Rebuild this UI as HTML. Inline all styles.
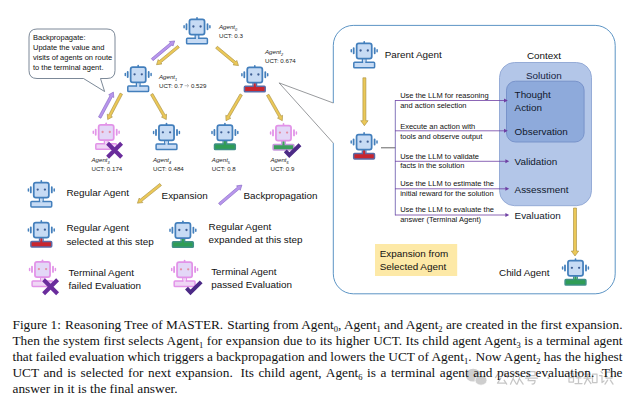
<!DOCTYPE html>
<html><head><meta charset="utf-8"><title>Figure 1</title>
<style>
html,body{margin:0;padding:0;background:#fff;}
body{width:640px;height:402px;overflow:hidden;position:relative;font-family:"Liberation Sans",sans-serif;}
svg{position:absolute;left:0;top:0;}
svg text{font-family:"Liberation Sans",sans-serif;}
.cl{position:absolute;left:12.5px;width:610px;height:16px;line-height:16px;font-family:"Liberation Serif",serif;font-size:13.3px;color:#111;white-space:nowrap;}
.cl.j{text-align:justify;text-align-last:justify;white-space:normal;}
.sb{font-size:8.5px;position:relative;top:2.5px;line-height:0;}
</style></head>
<body>
<svg width="640" height="402" viewBox="0 0 640 402">
<path d="M37 29H107Q115 29 115 37V70.5Q115 78.5 107 78.5H100.5L104.6 91.5L83.5 78.5H37Q29 78.5 29 70.5V37Q29 29 37 29Z" fill="#fff" stroke="#5b6b7d" stroke-width="0.8"/>
<text x="33.00" y="39.80" font-size="7.50" text-anchor="start" fill="#111"  >Backpropagate:</text>
<text x="33.00" y="49.73" font-size="7.50" text-anchor="start" fill="#111"  >Update the value and</text>
<text x="33.00" y="59.66" font-size="7.50" text-anchor="start" fill="#111"  >visits of agents on route</text>
<text x="33.00" y="69.59" font-size="7.50" text-anchor="start" fill="#111"  >to the terminal agent.</text>
<path d="M333.3 103V45.4A20 20 0 0 1 353.3 25.4H595.2A20 20 0 0 1 615.2 45.4V273.8A20 20 0 0 1 595.2 293.8H353.3A20 20 0 0 1 333.3 273.8V143.1" fill="#fff" stroke="#4a88bd" stroke-width="0.9" stroke-linejoin="round"/>
<path d="M333.3 103L279.1 82.9L333.3 143.1" fill="#fff" stroke="#6b6f73" stroke-width="0.7" stroke-linejoin="miter"/>
<polygon points="153.06,60.64 172.03,44.88 173.02,46.07 174.70,40.90 169.31,41.61 170.30,42.80 151.34,58.56" fill="#b896ec" stroke="#8162c2" stroke-width="0.6" stroke-linejoin="miter"/>
<polygon points="177.64,45.46 159.18,60.73 158.20,59.53 156.50,64.70 161.89,64.00 160.90,62.81 179.36,47.54" fill="#ebc858" stroke="#a58b3c" stroke-width="0.6" stroke-linejoin="miter"/>
<polygon points="215.64,48.34 234.10,63.70 233.11,64.89 238.50,65.60 236.82,60.43 235.83,61.62 217.36,46.26" fill="#ebc858" stroke="#a58b3c" stroke-width="0.6" stroke-linejoin="miter"/>
<polygon points="100.89,118.24 112.41,96.79 113.78,97.52 113.40,92.10 108.67,94.78 110.03,95.51 98.51,116.96" fill="#b896ec" stroke="#8162c2" stroke-width="0.6" stroke-linejoin="miter"/>
<polygon points="120.10,93.07 108.64,114.90 107.27,114.18 107.70,119.60 112.41,116.88 111.03,116.15 122.50,94.33" fill="#ebc858" stroke="#a58b3c" stroke-width="0.6" stroke-linejoin="miter"/>
<polygon points="150.53,94.87 162.84,116.28 161.49,117.06 166.30,119.60 166.52,114.17 165.18,114.94 152.87,93.53" fill="#ebc858" stroke="#a58b3c" stroke-width="0.6" stroke-linejoin="miter"/>
<polygon points="240.03,93.92 227.15,116.05 225.81,115.27 226.00,120.70 230.82,118.18 229.48,117.40 242.37,95.28" fill="#ebc858" stroke="#a58b3c" stroke-width="0.6" stroke-linejoin="miter"/>
<polygon points="266.53,95.56 278.86,117.36 277.51,118.12 282.30,120.70 282.56,115.27 281.21,116.03 268.87,94.24" fill="#ebc858" stroke="#a58b3c" stroke-width="0.6" stroke-linejoin="miter"/>
<g transform="translate(183.50,17.20) scale(1.000)"><path d="M13.5 0.5V2.4" stroke="#437fbc" stroke-width="1.6" stroke-linecap="round" fill="none"/><path d="M3.0 6.9V12.1M24.0 6.9V12.1" stroke="#437fbc" stroke-width="1.8" stroke-linecap="round" fill="none"/><path d="M0.6 8.6V10.6M26.4 8.6V10.6" stroke="#437fbc" stroke-width="1.5" stroke-linecap="round" fill="none"/><rect x="3.1" y="21.1" width="20.8" height="5.5" rx="0.9" fill="#c7dbf4" stroke="#437fbc" stroke-width="1.5"/><path d="M11.7 17.8V21.2M15.3 17.8V21.2" stroke="#437fbc" stroke-width="1.3" fill="none"/><rect x="12.45" y="17.6" width="2.1" height="4.7" fill="#c7dbf4"/><rect x="5.95" y="2.2" width="15.1" height="15.1" rx="2.1" fill="#c7dbf4" stroke="#437fbc" stroke-width="1.75"/><circle cx="9.9" cy="9.3" r="1.15" fill="#3f5f94"/><circle cx="17.1" cy="9.3" r="1.15" fill="#3f5f94"/></g>
<g transform="translate(124.70,65.00) scale(1.000)"><path d="M13.5 0.5V2.4" stroke="#437fbc" stroke-width="1.6" stroke-linecap="round" fill="none"/><path d="M3.0 6.9V12.1M24.0 6.9V12.1" stroke="#437fbc" stroke-width="1.8" stroke-linecap="round" fill="none"/><path d="M0.6 8.6V10.6M26.4 8.6V10.6" stroke="#437fbc" stroke-width="1.5" stroke-linecap="round" fill="none"/><rect x="3.1" y="21.1" width="20.8" height="5.5" rx="0.9" fill="#c7dbf4" stroke="#437fbc" stroke-width="1.5"/><path d="M11.7 17.8V21.2M15.3 17.8V21.2" stroke="#437fbc" stroke-width="1.3" fill="none"/><rect x="12.45" y="17.6" width="2.1" height="4.7" fill="#c7dbf4"/><rect x="5.95" y="2.2" width="15.1" height="15.1" rx="2.1" fill="#c7dbf4" stroke="#437fbc" stroke-width="1.75"/><circle cx="9.9" cy="9.3" r="1.15" fill="#3f5f94"/><circle cx="17.1" cy="9.3" r="1.15" fill="#3f5f94"/></g>
<g transform="translate(241.30,65.20) scale(1.000)"><path d="M13.5 0.5V2.4" stroke="#437fbc" stroke-width="1.6" stroke-linecap="round" fill="none"/><path d="M3.0 6.9V12.1M24.0 6.9V12.1" stroke="#437fbc" stroke-width="1.8" stroke-linecap="round" fill="none"/><path d="M0.6 8.6V10.6M26.4 8.6V10.6" stroke="#437fbc" stroke-width="1.5" stroke-linecap="round" fill="none"/><rect x="3.1" y="21.1" width="20.8" height="5.5" rx="0.9" fill="#c8262f" stroke="#5a6aa6" stroke-width="1.5"/><path d="M11.7 17.8V21.2M15.3 17.8V21.2" stroke="#5a6aa6" stroke-width="1.3" fill="none"/><rect x="12.45" y="17.6" width="2.1" height="4.7" fill="#c8262f"/><rect x="5.95" y="2.2" width="15.1" height="15.1" rx="2.1" fill="#c7dbf4" stroke="#437fbc" stroke-width="1.75"/><circle cx="9.9" cy="9.3" r="1.15" fill="#3f5f94"/><circle cx="17.1" cy="9.3" r="1.15" fill="#3f5f94"/></g>
<g transform="translate(92.70,122.70) scale(1.000)"><path d="M13.5 0.5V2.4" stroke="#e293e8" stroke-width="1.6" stroke-linecap="round" fill="none"/><path d="M3.0 6.9V12.1M24.0 6.9V12.1" stroke="#e293e8" stroke-width="1.8" stroke-linecap="round" fill="none"/><path d="M0.6 8.6V10.6M26.4 8.6V10.6" stroke="#e293e8" stroke-width="1.5" stroke-linecap="round" fill="none"/><rect x="3.1" y="21.1" width="20.8" height="5.5" rx="0.9" fill="#efd6f5" stroke="#e293e8" stroke-width="1.5"/><path d="M11.7 17.8V21.2M15.3 17.8V21.2" stroke="#e293e8" stroke-width="1.3" fill="none"/><rect x="12.45" y="17.6" width="2.1" height="4.7" fill="#efd6f5"/><rect x="5.95" y="2.2" width="15.1" height="15.1" rx="2.1" fill="#e3d7f7" stroke="#e293e8" stroke-width="1.75"/><circle cx="9.9" cy="9.3" r="1.15" fill="#e58fa3"/><circle cx="17.1" cy="9.3" r="1.15" fill="#e58fa3"/></g>
<path d="M107.60 143.20L121.60 157.20M121.60 143.20L107.60 157.20" stroke="#6a2c9c" stroke-width="4.1" stroke-linecap="butt" fill="none"/>
<g transform="translate(153.00,123.00) scale(1.000)"><path d="M13.5 0.5V2.4" stroke="#437fbc" stroke-width="1.6" stroke-linecap="round" fill="none"/><path d="M3.0 6.9V12.1M24.0 6.9V12.1" stroke="#437fbc" stroke-width="1.8" stroke-linecap="round" fill="none"/><path d="M0.6 8.6V10.6M26.4 8.6V10.6" stroke="#437fbc" stroke-width="1.5" stroke-linecap="round" fill="none"/><rect x="3.1" y="21.1" width="20.8" height="5.5" rx="0.9" fill="#c7dbf4" stroke="#437fbc" stroke-width="1.5"/><path d="M11.7 17.8V21.2M15.3 17.8V21.2" stroke="#437fbc" stroke-width="1.3" fill="none"/><rect x="12.45" y="17.6" width="2.1" height="4.7" fill="#c7dbf4"/><rect x="5.95" y="2.2" width="15.1" height="15.1" rx="2.1" fill="#c7dbf4" stroke="#437fbc" stroke-width="1.75"/><circle cx="9.9" cy="9.3" r="1.15" fill="#3f5f94"/><circle cx="17.1" cy="9.3" r="1.15" fill="#3f5f94"/></g>
<g transform="translate(211.40,123.00) scale(1.000)"><path d="M13.5 0.5V2.4" stroke="#437fbc" stroke-width="1.6" stroke-linecap="round" fill="none"/><path d="M3.0 6.9V12.1M24.0 6.9V12.1" stroke="#437fbc" stroke-width="1.8" stroke-linecap="round" fill="none"/><path d="M0.6 8.6V10.6M26.4 8.6V10.6" stroke="#437fbc" stroke-width="1.5" stroke-linecap="round" fill="none"/><rect x="3.1" y="21.1" width="20.8" height="5.5" rx="0.9" fill="#2f9d55" stroke="#3f8f86" stroke-width="1.5"/><path d="M11.7 17.8V21.2M15.3 17.8V21.2" stroke="#3f8f86" stroke-width="1.3" fill="none"/><rect x="12.45" y="17.6" width="2.1" height="4.7" fill="#2f9d55"/><rect x="5.95" y="2.2" width="15.1" height="15.1" rx="2.1" fill="#c7dbf4" stroke="#437fbc" stroke-width="1.75"/><circle cx="9.9" cy="9.3" r="1.15" fill="#3f5f94"/><circle cx="17.1" cy="9.3" r="1.15" fill="#3f5f94"/></g>
<g transform="translate(270.00,123.30) scale(1.000)"><path d="M13.5 0.5V2.4" stroke="#e293e8" stroke-width="1.6" stroke-linecap="round" fill="none"/><path d="M3.0 6.9V12.1M24.0 6.9V12.1" stroke="#e293e8" stroke-width="1.8" stroke-linecap="round" fill="none"/><path d="M0.6 8.6V10.6M26.4 8.6V10.6" stroke="#e293e8" stroke-width="1.5" stroke-linecap="round" fill="none"/><rect x="3.1" y="21.1" width="20.8" height="5.5" rx="0.9" fill="#3b9e5b" stroke="#c79ade" stroke-width="1.5"/><path d="M11.7 17.8V21.2M15.3 17.8V21.2" stroke="#c79ade" stroke-width="1.3" fill="none"/><rect x="12.45" y="17.6" width="2.1" height="4.7" fill="#3b9e5b"/><rect x="5.95" y="2.2" width="15.1" height="15.1" rx="2.1" fill="#e3d7f7" stroke="#e293e8" stroke-width="1.75"/><circle cx="9.9" cy="9.3" r="1.15" fill="#e58fa3"/><circle cx="17.1" cy="9.3" r="1.15" fill="#e58fa3"/></g>
<path d="M285.30 150.90L289.30 155.20L300.00 144.70" stroke="#4c2a86" stroke-width="4.0" stroke-linejoin="miter" fill="none"/>
<text x="219.00" y="29.20" font-size="6.15" font-style="italic" fill="#222">Agent<tspan font-size="3.81" dy="1.6">0</tspan></text><text x="219.00" y="37.80" font-size="6.15" fill="#222">UCT: 0.3</text>
<text x="159.00" y="79.20" font-size="6.15" font-style="italic" fill="#222">Agent<tspan font-size="3.81" dy="1.6">1</tspan></text><text x="159.00" y="87.80" font-size="6.15" fill="#222">UCT: 0.7</text>
<path d="M184.6 85.7H188.6M187 84.1L188.8 85.7L187 87.3" stroke="#a9a9a9" stroke-width="0.7" fill="none"/>
<text x="191.00" y="87.80" font-size="6.15" text-anchor="start" fill="#222"  >0.529</text>
<text x="265.00" y="54.20" font-size="6.15" font-style="italic" fill="#222">Agent<tspan font-size="3.81" dy="1.6">2</tspan></text><text x="265.00" y="62.80" font-size="6.15" fill="#222">UCT: 0.674</text>
<text x="91.50" y="162.00" font-size="6.15" font-style="italic" fill="#222">Agent<tspan font-size="3.81" dy="1.6">3</tspan></text><text x="91.50" y="170.60" font-size="6.15" fill="#222">UCT: 0.174</text>
<text x="153.00" y="162.00" font-size="6.15" font-style="italic" fill="#222">Agent<tspan font-size="3.81" dy="1.6">4</tspan></text><text x="153.00" y="170.60" font-size="6.15" fill="#222">UCT: 0.484</text>
<text x="211.80" y="162.00" font-size="6.15" font-style="italic" fill="#222">Agent<tspan font-size="3.81" dy="1.6">5</tspan></text><text x="211.80" y="170.60" font-size="6.15" fill="#222">UCT: 0.8</text>
<text x="270.50" y="162.40" font-size="6.15" font-style="italic" fill="#222">Agent<tspan font-size="3.81" dy="1.6">6</tspan></text><text x="270.50" y="171.00" font-size="6.15" fill="#222">UCT: 0.9</text>
<g transform="translate(27.80,180.30) scale(1.000)"><path d="M13.5 0.5V2.4" stroke="#437fbc" stroke-width="1.6" stroke-linecap="round" fill="none"/><path d="M3.0 6.9V12.1M24.0 6.9V12.1" stroke="#437fbc" stroke-width="1.8" stroke-linecap="round" fill="none"/><path d="M0.6 8.6V10.6M26.4 8.6V10.6" stroke="#437fbc" stroke-width="1.5" stroke-linecap="round" fill="none"/><rect x="3.1" y="21.1" width="20.8" height="5.5" rx="0.9" fill="#c7dbf4" stroke="#437fbc" stroke-width="1.5"/><path d="M11.7 17.8V21.2M15.3 17.8V21.2" stroke="#437fbc" stroke-width="1.3" fill="none"/><rect x="12.45" y="17.6" width="2.1" height="4.7" fill="#c7dbf4"/><rect x="5.95" y="2.2" width="15.1" height="15.1" rx="2.1" fill="#c7dbf4" stroke="#437fbc" stroke-width="1.75"/><circle cx="9.9" cy="9.3" r="1.15" fill="#3f5f94"/><circle cx="17.1" cy="9.3" r="1.15" fill="#3f5f94"/></g>
<text x="66.40" y="196.30" font-size="9.90" text-anchor="start" fill="#111"  >Regular Agent</text>
<polygon points="159.75,183.45 140.13,199.26 139.16,198.06 137.40,203.20 142.80,202.57 141.83,201.36 161.45,185.55" fill="#ebc858" stroke="#a58b3c" stroke-width="0.6" stroke-linejoin="miter"/>
<text x="161.60" y="198.60" font-size="9.90" text-anchor="start" fill="#111"  >Expansion</text>
<polygon points="220.27,205.23 239.27,189.11 240.27,190.29 241.90,185.10 236.52,185.87 237.52,187.05 218.53,203.17" fill="#b896ec" stroke="#8162c2" stroke-width="0.6" stroke-linejoin="miter"/>
<text x="243.40" y="198.60" font-size="9.90" text-anchor="start" fill="#111"  >Backpropagation</text>
<g transform="translate(27.80,220.40) scale(1.000)"><path d="M13.5 0.5V2.4" stroke="#437fbc" stroke-width="1.6" stroke-linecap="round" fill="none"/><path d="M3.0 6.9V12.1M24.0 6.9V12.1" stroke="#437fbc" stroke-width="1.8" stroke-linecap="round" fill="none"/><path d="M0.6 8.6V10.6M26.4 8.6V10.6" stroke="#437fbc" stroke-width="1.5" stroke-linecap="round" fill="none"/><rect x="3.1" y="21.1" width="20.8" height="5.5" rx="0.9" fill="#c8262f" stroke="#5a6aa6" stroke-width="1.5"/><path d="M11.7 17.8V21.2M15.3 17.8V21.2" stroke="#5a6aa6" stroke-width="1.3" fill="none"/><rect x="12.45" y="17.6" width="2.1" height="4.7" fill="#c8262f"/><rect x="5.95" y="2.2" width="15.1" height="15.1" rx="2.1" fill="#c7dbf4" stroke="#437fbc" stroke-width="1.75"/><circle cx="9.9" cy="9.3" r="1.15" fill="#3f5f94"/><circle cx="17.1" cy="9.3" r="1.15" fill="#3f5f94"/></g>
<text x="66.40" y="231.40" font-size="9.90" text-anchor="start" fill="#111"  >Regular Agent</text>
<text x="66.40" y="244.50" font-size="9.90" text-anchor="start" fill="#111"  >selected at this step</text>
<g transform="translate(169.40,220.70) scale(1.000)"><path d="M13.5 0.5V2.4" stroke="#437fbc" stroke-width="1.6" stroke-linecap="round" fill="none"/><path d="M3.0 6.9V12.1M24.0 6.9V12.1" stroke="#437fbc" stroke-width="1.8" stroke-linecap="round" fill="none"/><path d="M0.6 8.6V10.6M26.4 8.6V10.6" stroke="#437fbc" stroke-width="1.5" stroke-linecap="round" fill="none"/><rect x="3.1" y="21.1" width="20.8" height="5.5" rx="0.9" fill="#2f9d55" stroke="#3f8f86" stroke-width="1.5"/><path d="M11.7 17.8V21.2M15.3 17.8V21.2" stroke="#3f8f86" stroke-width="1.3" fill="none"/><rect x="12.45" y="17.6" width="2.1" height="4.7" fill="#2f9d55"/><rect x="5.95" y="2.2" width="15.1" height="15.1" rx="2.1" fill="#c7dbf4" stroke="#437fbc" stroke-width="1.75"/><circle cx="9.9" cy="9.3" r="1.15" fill="#3f5f94"/><circle cx="17.1" cy="9.3" r="1.15" fill="#3f5f94"/></g>
<text x="208.60" y="229.50" font-size="9.90" text-anchor="start" fill="#111"  >Regular Agent</text>
<text x="208.60" y="242.60" font-size="9.90" text-anchor="start" fill="#111"  >expanded at this step</text>
<g transform="translate(29.00,259.80) scale(1.000)"><path d="M13.5 0.5V2.4" stroke="#e293e8" stroke-width="1.6" stroke-linecap="round" fill="none"/><path d="M3.0 6.9V12.1M24.0 6.9V12.1" stroke="#e293e8" stroke-width="1.8" stroke-linecap="round" fill="none"/><path d="M0.6 8.6V10.6M26.4 8.6V10.6" stroke="#e293e8" stroke-width="1.5" stroke-linecap="round" fill="none"/><rect x="3.1" y="21.1" width="20.8" height="5.5" rx="0.9" fill="#efd6f5" stroke="#e293e8" stroke-width="1.5"/><path d="M11.7 17.8V21.2M15.3 17.8V21.2" stroke="#e293e8" stroke-width="1.3" fill="none"/><rect x="12.45" y="17.6" width="2.1" height="4.7" fill="#efd6f5"/><rect x="5.95" y="2.2" width="15.1" height="15.1" rx="2.1" fill="#e3d7f7" stroke="#e293e8" stroke-width="1.75"/><circle cx="9.9" cy="9.3" r="1.15" fill="#e58fa3"/><circle cx="17.1" cy="9.3" r="1.15" fill="#e58fa3"/></g>
<path d="M43.60 279.70L57.60 293.70M57.60 279.70L43.60 293.70" stroke="#6a2c9c" stroke-width="4.1" stroke-linecap="butt" fill="none"/>
<text x="68.60" y="275.80" font-size="9.90" text-anchor="start" fill="#111"  >Terminal Agent</text>
<text x="68.60" y="288.90" font-size="9.90" text-anchor="start" fill="#111"  >failed Evaluation</text>
<g transform="translate(171.10,260.00) scale(1.000)"><path d="M13.5 0.5V2.4" stroke="#e293e8" stroke-width="1.6" stroke-linecap="round" fill="none"/><path d="M3.0 6.9V12.1M24.0 6.9V12.1" stroke="#e293e8" stroke-width="1.8" stroke-linecap="round" fill="none"/><path d="M0.6 8.6V10.6M26.4 8.6V10.6" stroke="#e293e8" stroke-width="1.5" stroke-linecap="round" fill="none"/><rect x="3.1" y="21.1" width="20.8" height="5.5" rx="0.9" fill="#efd6f5" stroke="#e293e8" stroke-width="1.5"/><path d="M11.7 17.8V21.2M15.3 17.8V21.2" stroke="#e293e8" stroke-width="1.3" fill="none"/><rect x="12.45" y="17.6" width="2.1" height="4.7" fill="#efd6f5"/><rect x="5.95" y="2.2" width="15.1" height="15.1" rx="2.1" fill="#e3d7f7" stroke="#e293e8" stroke-width="1.75"/><circle cx="9.9" cy="9.3" r="1.15" fill="#e58fa3"/><circle cx="17.1" cy="9.3" r="1.15" fill="#e58fa3"/></g>
<path d="M186.50 288.10L190.50 292.40L201.20 281.90" stroke="#4c2a86" stroke-width="4.0" stroke-linejoin="miter" fill="none"/>
<text x="211.20" y="275.20" font-size="9.90" text-anchor="start" fill="#111"  >Terminal Agent</text>
<text x="211.20" y="288.30" font-size="9.90" text-anchor="start" fill="#111"  >passed Evaluation</text>
<g transform="translate(350.70,41.20) scale(1.000)"><path d="M13.5 0.5V2.4" stroke="#437fbc" stroke-width="1.6" stroke-linecap="round" fill="none"/><path d="M3.0 6.9V12.1M24.0 6.9V12.1" stroke="#437fbc" stroke-width="1.8" stroke-linecap="round" fill="none"/><path d="M0.6 8.6V10.6M26.4 8.6V10.6" stroke="#437fbc" stroke-width="1.5" stroke-linecap="round" fill="none"/><rect x="3.1" y="21.1" width="20.8" height="5.5" rx="0.9" fill="#c7dbf4" stroke="#437fbc" stroke-width="1.5"/><path d="M11.7 17.8V21.2M15.3 17.8V21.2" stroke="#437fbc" stroke-width="1.3" fill="none"/><rect x="12.45" y="17.6" width="2.1" height="4.7" fill="#c7dbf4"/><rect x="5.95" y="2.2" width="15.1" height="15.1" rx="2.1" fill="#c7dbf4" stroke="#437fbc" stroke-width="1.75"/><circle cx="9.9" cy="9.3" r="1.15" fill="#3f5f94"/><circle cx="17.1" cy="9.3" r="1.15" fill="#3f5f94"/></g>
<text x="384.70" y="58.10" font-size="9.90" text-anchor="start" fill="#111"  >Parent Agent</text>
<polygon points="362.90,77.80 362.90,120.70 360.70,120.70 364.40,125.70 368.10,120.70 365.90,120.70 365.90,77.80" fill="#ebc858" stroke="#a58b3c" stroke-width="0.6" stroke-linejoin="miter"/>
<g transform="translate(350.60,132.40) scale(1.000)"><path d="M13.5 0.5V2.4" stroke="#437fbc" stroke-width="1.6" stroke-linecap="round" fill="none"/><path d="M3.0 6.9V12.1M24.0 6.9V12.1" stroke="#437fbc" stroke-width="1.8" stroke-linecap="round" fill="none"/><path d="M0.6 8.6V10.6M26.4 8.6V10.6" stroke="#437fbc" stroke-width="1.5" stroke-linecap="round" fill="none"/><rect x="3.1" y="21.1" width="20.8" height="5.5" rx="0.9" fill="#c8262f" stroke="#5a6aa6" stroke-width="1.5"/><path d="M11.7 17.8V21.2M15.3 17.8V21.2" stroke="#5a6aa6" stroke-width="1.3" fill="none"/><rect x="12.45" y="17.6" width="2.1" height="4.7" fill="#c8262f"/><rect x="5.95" y="2.2" width="15.1" height="15.1" rx="2.1" fill="#c7dbf4" stroke="#437fbc" stroke-width="1.75"/><circle cx="9.9" cy="9.3" r="1.15" fill="#3f5f94"/><circle cx="17.1" cy="9.3" r="1.15" fill="#3f5f94"/></g>
<rect x="499.5" y="62.5" width="92" height="143.2" rx="15" fill="#b3c6e8" stroke="#8ea6d4" stroke-width="0.9"/>
<rect x="506.5" y="81.2" width="77.6" height="60.8" rx="9" fill="#8eaadb" stroke="#748fc7" stroke-width="0.9"/>
<text x="543.90" y="58.70" font-size="9.90" text-anchor="middle" fill="#111"  >Context</text>
<text x="543.80" y="78.60" font-size="9.90" text-anchor="middle" fill="#15233f"  >Solution</text>
<text x="514.60" y="97.70" font-size="9.90" text-anchor="start" fill="#10182c"  >Thought</text>
<text x="514.60" y="110.60" font-size="9.90" text-anchor="start" fill="#10182c"  >Action</text>
<text x="514.60" y="134.70" font-size="9.90" text-anchor="start" fill="#10182c"  >Observation</text>
<text x="514.60" y="165.00" font-size="9.90" text-anchor="start" fill="#10182c"  >Validation</text>
<text x="514.60" y="192.50" font-size="9.90" text-anchor="start" fill="#10182c"  >Assessment</text>
<text x="514.60" y="218.90" font-size="9.90" text-anchor="start" fill="#10182c"  >Evaluation</text>
<path d="M381 147.8H395.3" stroke="#555" stroke-width="0.9" fill="none"/>
<path d="M395.3 100.2V215.3" stroke="#6454ab" stroke-width="0.8" fill="none"/>
<path d="M395 100.5H505.8" stroke="#6e3fa3" stroke-width="0.8" fill="none"/>
<path d="M504.0 98.5l3.8 2.0l-3.8 2.0z" fill="#6e3fa3"/>
<path d="M395 130.8H505.8" stroke="#6e3fa3" stroke-width="0.8" fill="none"/>
<path d="M504.0 128.8l3.8 2.0l-3.8 2.0z" fill="#6e3fa3"/>
<path d="M395 161.3H507.2" stroke="#6e3fa3" stroke-width="0.8" fill="none"/>
<path d="M505.4 159.3l3.8 2.0l-3.8 2.0z" fill="#6e3fa3"/>
<path d="M395 188.8H507.2" stroke="#6e3fa3" stroke-width="0.8" fill="none"/>
<path d="M505.4 186.8l3.8 2.0l-3.8 2.0z" fill="#6e3fa3"/>
<path d="M395 215.0H507.2" stroke="#6e3fa3" stroke-width="0.8" fill="none"/>
<path d="M505.4 213.0l3.8 2.0l-3.8 2.0z" fill="#6e3fa3"/>
<text x="400.20" y="98.20" font-size="7.50" text-anchor="start" fill="#111"  >Use the LLM for reasoning</text>
<text x="400.20" y="108.10" font-size="7.50" text-anchor="start" fill="#111"  >and action selection</text>
<text x="400.20" y="128.60" font-size="7.50" text-anchor="start" fill="#111"  >Execute an action with</text>
<text x="400.20" y="138.50" font-size="7.50" text-anchor="start" fill="#111"  >tools and observe output</text>
<text x="400.20" y="158.50" font-size="7.50" text-anchor="start" fill="#111"  >Use the LLM to validate</text>
<text x="400.20" y="168.40" font-size="7.50" text-anchor="start" fill="#111"  >facts in the solution</text>
<text x="400.20" y="186.10" font-size="7.50" text-anchor="start" fill="#111"  >Use the LLM to estimate the</text>
<text x="400.20" y="196.10" font-size="7.50" text-anchor="start" fill="#111"  >initial reward for the solution</text>
<text x="400.20" y="212.00" font-size="7.50" text-anchor="start" fill="#111"  >Use the LLM to evaluate the</text>
<text x="400.20" y="222.20" font-size="7.50" text-anchor="start" fill="#111"  >answer (Terminal Agent)</text>
<rect x="375" y="244" width="82.2" height="32" fill="#fde9a7"/>
<text x="379.70" y="257.30" font-size="9.90" text-anchor="start" fill="#111"  >Expansion from</text>
<text x="379.70" y="270.40" font-size="9.90" text-anchor="start" fill="#111"  >Selected Agent</text>
<text x="499.00" y="276.00" font-size="9.90" text-anchor="start" fill="#111"  >Child Agent</text>
<polygon points="573.50,208.00 573.50,251.00 571.30,251.00 575.00,256.00 578.70,251.00 576.50,251.00 576.50,208.00" fill="#ebc858" stroke="#a58b3c" stroke-width="0.6" stroke-linejoin="miter"/>
<g transform="translate(562.00,258.50) scale(1.000)"><path d="M13.5 0.5V2.4" stroke="#437fbc" stroke-width="1.6" stroke-linecap="round" fill="none"/><path d="M3.0 6.9V12.1M24.0 6.9V12.1" stroke="#437fbc" stroke-width="1.8" stroke-linecap="round" fill="none"/><path d="M0.6 8.6V10.6M26.4 8.6V10.6" stroke="#437fbc" stroke-width="1.5" stroke-linecap="round" fill="none"/><rect x="3.1" y="21.1" width="20.8" height="5.5" rx="0.9" fill="#2f9d55" stroke="#3f8f86" stroke-width="1.5"/><path d="M11.7 17.8V21.2M15.3 17.8V21.2" stroke="#3f8f86" stroke-width="1.3" fill="none"/><rect x="12.45" y="17.6" width="2.1" height="4.7" fill="#2f9d55"/><rect x="5.95" y="2.2" width="15.1" height="15.1" rx="2.1" fill="#c7dbf4" stroke="#437fbc" stroke-width="1.75"/><circle cx="9.9" cy="9.3" r="1.15" fill="#3f5f94"/><circle cx="17.1" cy="9.3" r="1.15" fill="#3f5f94"/></g>
<g opacity="0.8"><ellipse cx="473.2" cy="375.2" rx="7.6" ry="6.4" fill="#c2c2c2"/><ellipse cx="481" cy="380.2" rx="6" ry="5" fill="#c2c2c2" stroke="#fff" stroke-width="0.8"/><path transform="translate(494.5,370.6)" d="M5 1L1 7M9 1L13.2 7M6.5 7.3L3 12.6H11.5M9.6 9.6L12.2 13.6" fill="none" stroke="#b9b9b9" stroke-width="1.25" stroke-linecap="round" stroke-linejoin="round"/><path transform="translate(509.5,370.6)" d="M7 0.5L1.8 6.2M7 0.5L12.2 6.2M4 7L1 13.6M4 8.6L7 13.6M10.2 7L7.6 13.6M10.2 8.6L13.6 13.6" fill="none" stroke="#b9b9b9" stroke-width="1.25" stroke-linecap="round" stroke-linejoin="round"/><path transform="translate(524.5,370.6)" d="M3.5 1H10.5V5H3.5ZM1 7.5H13M4.2 7.5L3.6 10H10.6Q10.6 13.6 7.6 13.4" fill="none" stroke="#b9b9b9" stroke-width="1.25" stroke-linecap="round" stroke-linejoin="round"/><path transform="translate(568.0,370.6)" d="M1 2.5H5.5V11.5H1ZM1 7H5.5M7.5 2H13.5M8 7.2H13M7 13H14M10.5 2V13" fill="none" stroke="#b9b9b9" stroke-width="1.25" stroke-linecap="round" stroke-linejoin="round"/><path transform="translate(583.5,370.6)" d="M3 0.5L1.5 4M2 3.5H7M0.5 7.5H7.5M4 3.5V7.5L1 13.5M4 8L7.5 13M9 3.5H13.5V12H9Z" fill="none" stroke="#b9b9b9" stroke-width="1.25" stroke-linecap="round" stroke-linejoin="round"/><path transform="translate(599.0,370.6)" d="M2 1L3.6 2.6M0.5 5H3V12L5 10.4M7 1.5H13V7.5H7ZM8.6 9.5L6 13.6M11.4 9.5L14 13.6" fill="none" stroke="#b9b9b9" stroke-width="1.25" stroke-linecap="round" stroke-linejoin="round"/><circle cx="548.5" cy="378" r="1.1" fill="#b9b9b9"/></g>
</svg>
<div class="cl" style="top:317.2px;word-spacing:0.0158px">Figure 1:<span style="margin-left:0.816px"></span> Reasoning Tree of MASTER.<span style="margin-left:0.832px"></span> Starting from Agent<span class="sb">0</span>,<span style="margin-left:0.004px"></span> Agent<span class="sb">1</span> and Agent<span class="sb">2</span> are created in the first expansion.</div>
<div class="cl" style="top:333.1px;word-spacing:0.1570px">Then the system first selects Agent<span class="sb">1</span> for expansion due to its higher UCT. Its child agent Agent<span class="sb">3</span> is a terminal agent</div>
<div class="cl" style="top:349.1px;word-spacing:-0.1506px">that failed evaluation which triggers a backpropagation and lowers the UCT of Agent<span class="sb">1</span>.<span style="margin-left:0.900px"></span> Now Agent<span class="sb">2</span> has the highest</div>
<div class="cl" style="top:365.2px;word-spacing:1.2348px">UCT and is selected for next expansion.<span style="margin-left:3.270px"></span> Its child agent,<span style="margin-left:0.309px"></span> Agent<span class="sb">6</span> is a terminal agent and passes evaluation.<span style="margin-left:3.270px"></span> The</div>
<div class="cl" style="top:381.1px">answer in it is the final answer.</div>

</body></html>
